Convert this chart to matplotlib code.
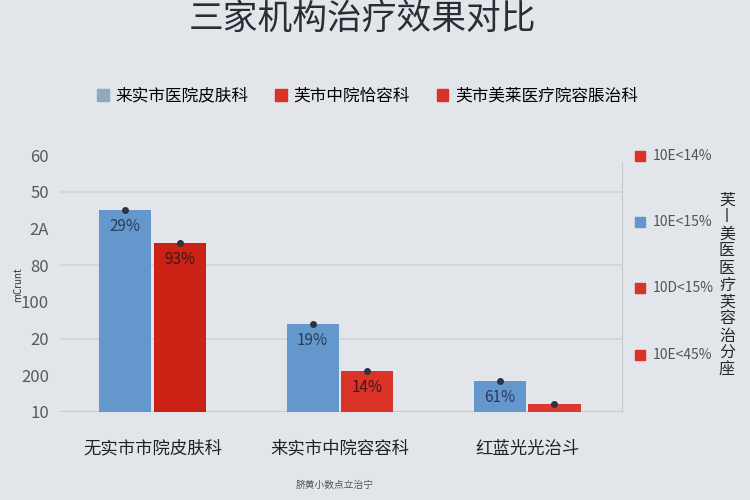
import matplotlib
matplotlib.use("Agg")
import matplotlib.pyplot as plt
from matplotlib.patches import Rectangle

plt.rcParams['font.family'] = ['Noto Sans CJK SC', 'DejaVu Sans']

title = "三家机构治疗效果对比"
categories = ["无实市市院皮肤科", "来实市中院容容科", "红蓝光光治斗"]
series_names = ["来实市医院皮肤科", "芙市中院恰容科", "芙市美莱医疗院容脹治科"]
blue_values = [55.0, 24.0, 8.4]
red_values = [46.0, 11.2, 2.2]
blue_labels = ["29%", "19%", "61%"]
red_labels = ["93%", "14%", ""]
ytick_values = [0, 10, 20, 30, 40, 50, 60, 70]
ytick_labels = ["10", "200", "20", "100", "80", "2A", "50", "60"]
grid_values = [20, 40, 60]
side_labels = ["10E<14%", "10E<15%", "10D<15%", "10E<45%"]
side_colors = ["#dc3328", "#6396c9", "#dc3328", "#dc3328"]
side_title = "芙丨美医医疗芙容治分座"
ylabel = "mCrunt"
xlabel = "脐黄小数点立治宁"

bg = "#e2e5ea"
blue = "#6497cb"
reds = ["#cc2216", "#dc3328", "#dc3a30"]
legend_colors = ["#8eaac0", "#d93328", "#d93328"]

fig = plt.figure(figsize=(7.5, 5), dpi=100, facecolor=bg)
ax = fig.add_axes([0.08, 0.176, 0.749, 0.514], facecolor=bg)

w = 0.29
xs = list(range(len(categories)))
for i, x in enumerate(xs):
    ax.bar(x - w / 2, blue_values[i], width=w - 0.012, color=blue, zorder=3)
    ax.bar(x + w / 2, red_values[i], width=w - 0.012, color=reds[i], zorder=3)
    ax.plot([x - w / 2], [blue_values[i]], 'o', color="#2e3440", ms=4, zorder=4)
    ax.plot([x + w / 2], [red_values[i]], 'o', color="#2e3440", ms=4, zorder=4)
    if blue_labels[i]:
        ax.annotate(blue_labels[i], (x - w / 2, blue_values[i]), xytext=(0, -12),
                    textcoords="offset points", ha="center", va="center",
                    fontsize=11, color="#2a3a5a", zorder=5)
    if red_labels[i]:
        ax.annotate(red_labels[i], (x + w / 2, red_values[i]), xytext=(0, -12),
                    textcoords="offset points", ha="center", va="center",
                    fontsize=11, color="#3a1a1a", zorder=5)

ax.set_xlim(-0.493, 2.504)
ax.set_ylim(0, 70)
for g in grid_values:
    ax.axhline(g, color="#cfd3d9", lw=1.2, zorder=1)
ax.axhline(0, color="#c6cad0", lw=1.5, zorder=2)

for s in ["top", "left", "bottom"]:
    ax.spines[s].set_visible(False)
ax.spines["right"].set_color("#c6cad0")
ax.spines["right"].set_bounds(0, 68)

ax.set_yticks(ytick_values)
ax.set_yticklabels(ytick_labels, fontsize=12, color="#555a60")
ax.set_xticks(xs)
ax.set_xticklabels(categories, fontsize=12.5, color="#1e2126")
ax.tick_params(axis="y", length=0, pad=8)
ax.tick_params(axis="x", length=0, pad=20)

fig.text(18 / 750, 1 - 285 / 500, ylabel, rotation=90, ha="center", va="center",
         fontsize=7, color="#333")

fig.text(0.483, 1 - 19 / 500, title, ha="center", va="center", fontsize=25,
         color="#2a2d33", fontweight="light")

handles = [Rectangle((0, 0), 1, 1, color=c) for c in legend_colors]
fig.legend(handles, series_names, loc="center", bbox_to_anchor=(0.49, 1 - 96 / 500),
           ncol=3, frameon=False, fontsize=12, handlelength=0.7, handleheight=0.7,
           handletextpad=0.4, columnspacing=1.6)

side_y = [156, 222, 288, 355]
for yy, lab, col in zip(side_y, side_labels, side_colors):
    fig.patches.append(Rectangle((635 / 750, 1 - (yy + 5) / 500), 10 / 750, 10 / 500,
                                 color=col, transform=fig.transFigure, figure=fig))
    fig.text(653 / 750, 1 - yy / 500, lab, ha="left", va="center", fontsize=10,
             color="#50555c")

fig.text(727 / 750, 1 - 285 / 500, "\n".join(side_title), ha="center", va="center",
         fontsize=11.5, color="#25282d", linespacing=1.0)

fig.text(335 / 750, 1 - 485 / 500, xlabel, ha="center", va="center", fontsize=7,
         color="#50555c")

fig.savefig("out.png", dpi=100, facecolor=bg)
